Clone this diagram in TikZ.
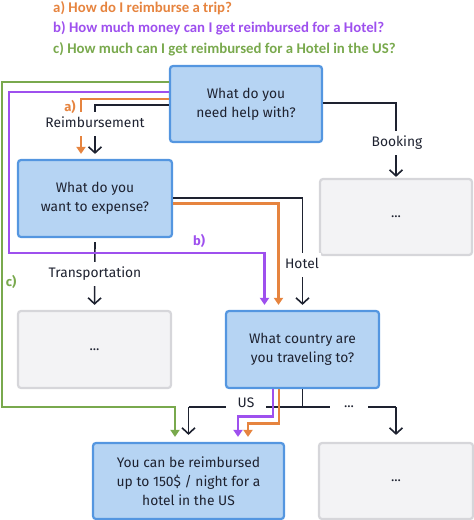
\documentclass[tikz,border=0pt]{standalone}
\usepackage{fontspec}
\setmainfont{Fira Sans}
\newfontfamily\titlefont{Carlito}
\usetikzlibrary{arrows.meta,calc}
\definecolor{cOr}{HTML}{E6843F}
\definecolor{cPu}{HTML}{9E50EE}
\definecolor{cGr}{HTML}{79A94D}
\definecolor{bFill}{HTML}{B6D4F3}
\definecolor{bLine}{HTML}{5496E0}
\definecolor{gFill}{HTML}{F3F3F5}
\definecolor{gLine}{HTML}{D6D6DA}
\definecolor{txt}{HTML}{1E2230}
\begin{document}
\begin{tikzpicture}[x=1pt,y=1pt,
  every node/.style={text=txt},
  boxfont/.style={font=\fontsize{13.8}{19}\selectfont},
  bluebox/.style={boxfont, draw=bLine, fill=bFill, line width=2.2pt, rounded corners=3pt, align=center, inner sep=0pt},
  greybox/.style={boxfont, draw=gLine, fill=gFill, line width=2.2pt, rounded corners=3pt, align=center, inner sep=0pt},
  blk/.style={draw=txt, line width=1.6pt, -{Straight Barb[length=6pt,width=13pt]}},
  blkline/.style={draw=txt, line width=1.6pt},
  col/.style={draw=#1, line width=2.8pt, -{Triangle[length=7pt,width=9pt]}},
  lbl/.style={boxfont, fill=white, text height=9.5pt, text depth=2pt, inner ysep=6pt, inner xsep=2pt},
  qtitle/.style={anchor=base west, font=\titlefont\bfseries\fontsize{14.8}{17}\selectfont, inner sep=0pt, text=#1},
  tag/.style={font=\bfseries\fontsize{13}{15}\selectfont, text=#1, inner sep=0pt}
]
\useasboundingbox (0,0) rectangle (474,-520);

% titles
\node[qtitle=cOr] (qa) at (53,-12) {a) How do I reimburse a trip?};
\node[qtitle=cPu] (qb) at (53,-32) {b) How much money can I get reimbursed for a Hotel?};
\node[qtitle=cGr] (qc) at (53,-53) {c) How much can I get reimbursed for a Hotel in the US?};

% boxes
\node[bluebox, minimum width=152pt, minimum height=76pt] (b1) at (246,-104) {What do you\\need help with?};
\node[bluebox, minimum width=154pt, minimum height=77pt] (b2) at (95,-198.5) {What do you\\want to expense?};
\node[greybox, minimum width=152pt, minimum height=76pt] (bk) at (396,-217) {...};
\node[greybox, minimum width=153pt, minimum height=77pt] (tr) at (94.5,-349.5) {...};
\node[bluebox, minimum width=153pt, minimum height=77pt] (co) at (302.5,-349.5) {What country are\\you traveling to?};
\node[bluebox, minimum width=191pt, minimum height=76pt] (re) at (188.5,-481) {You can be reimbursed\\up to 150\$ / night for a\\hotel in the US};
\node[greybox, minimum width=154pt, minimum height=76pt] (ls) at (396,-481) {...};

% bend points
\coordinate (pc) at (9,-253);
\coordinate (gc) at (2,-407);

% black connectors
\draw[blk, shorten >=5pt] ($(b1.west)+(0,-1)$) -| (b2.north);
\draw[blk, shorten >=1pt] ($(b1.east)+(0,1)$) -| (bk.north);
\draw[blk, shorten >=5pt] ($(b2.east)+(0,0.5)$) -| (co.north);
\draw[blk, shorten >=5pt] ($(b2.south)+(0,-4)$) -- (tr.north);
\draw[blkline] (co.south) -- ++(0,-18) coordinate (sp);
\draw[blkline] (sp -| re.north) -- (sp -| ls.north);
\draw[blk, shorten >=7pt] (sp -| re.north) -- (re.north);
\draw[blk, shorten >=7pt] (sp -| ls.north) -- (ls.north);

% coloured connectors
\draw[col=cOr, shorten >=5pt] ($(b1.west)+(0,5)$) -| ([xshift=-14pt]b2.north);
\draw[col=cOr, shorten >=5pt] ($(b2.east)+(0,-5)$) -| ([xshift=-24pt]co.north);
\draw[col=cPu, shorten >=5pt] ($(b1.west)+(0,12)$) -| (pc) -| ([xshift=-38pt]co.north);
\draw[col=cGr, shorten >=5pt] ($(b1.west)+(0,22)$) -| (gc) -| ([xshift=-13.5pt]re.north);
\draw[col=cPu, shorten >=5pt] ([xshift=-29.5pt]co.south) -- ++(0,-27) -| ([xshift=49.5pt]re.north);
\draw[col=cOr, shorten >=5pt] ([xshift=-23.5pt]co.south) -- ++(0,-34) -| ([xshift=59.5pt]re.north);

% labels on connectors
\node[lbl] (lr) at (95,-124) {Reimbursement};
\node[lbl] (lb) at (397,-143) {Booking};
\node[lbl] (lh) at (302,-265) {Hotel};
\node[lbl] (lt) at (95,-274) {Transportation};
\node[lbl, inner xsep=12pt, inner ysep=3pt] (lu) at (246,-404) {US};
\node[lbl, inner xsep=14pt, inner ysep=3pt] (ld) at (349,-404) {...};

% path tags
\node[tag=cOr] (ta) at (70,-107) {a)};
\node[tag=cPu] (tb) at (199,-241) {b)};
\node[tag=cGr] (tc) at (11,-282) {c)};
\end{tikzpicture}
\end{document}
